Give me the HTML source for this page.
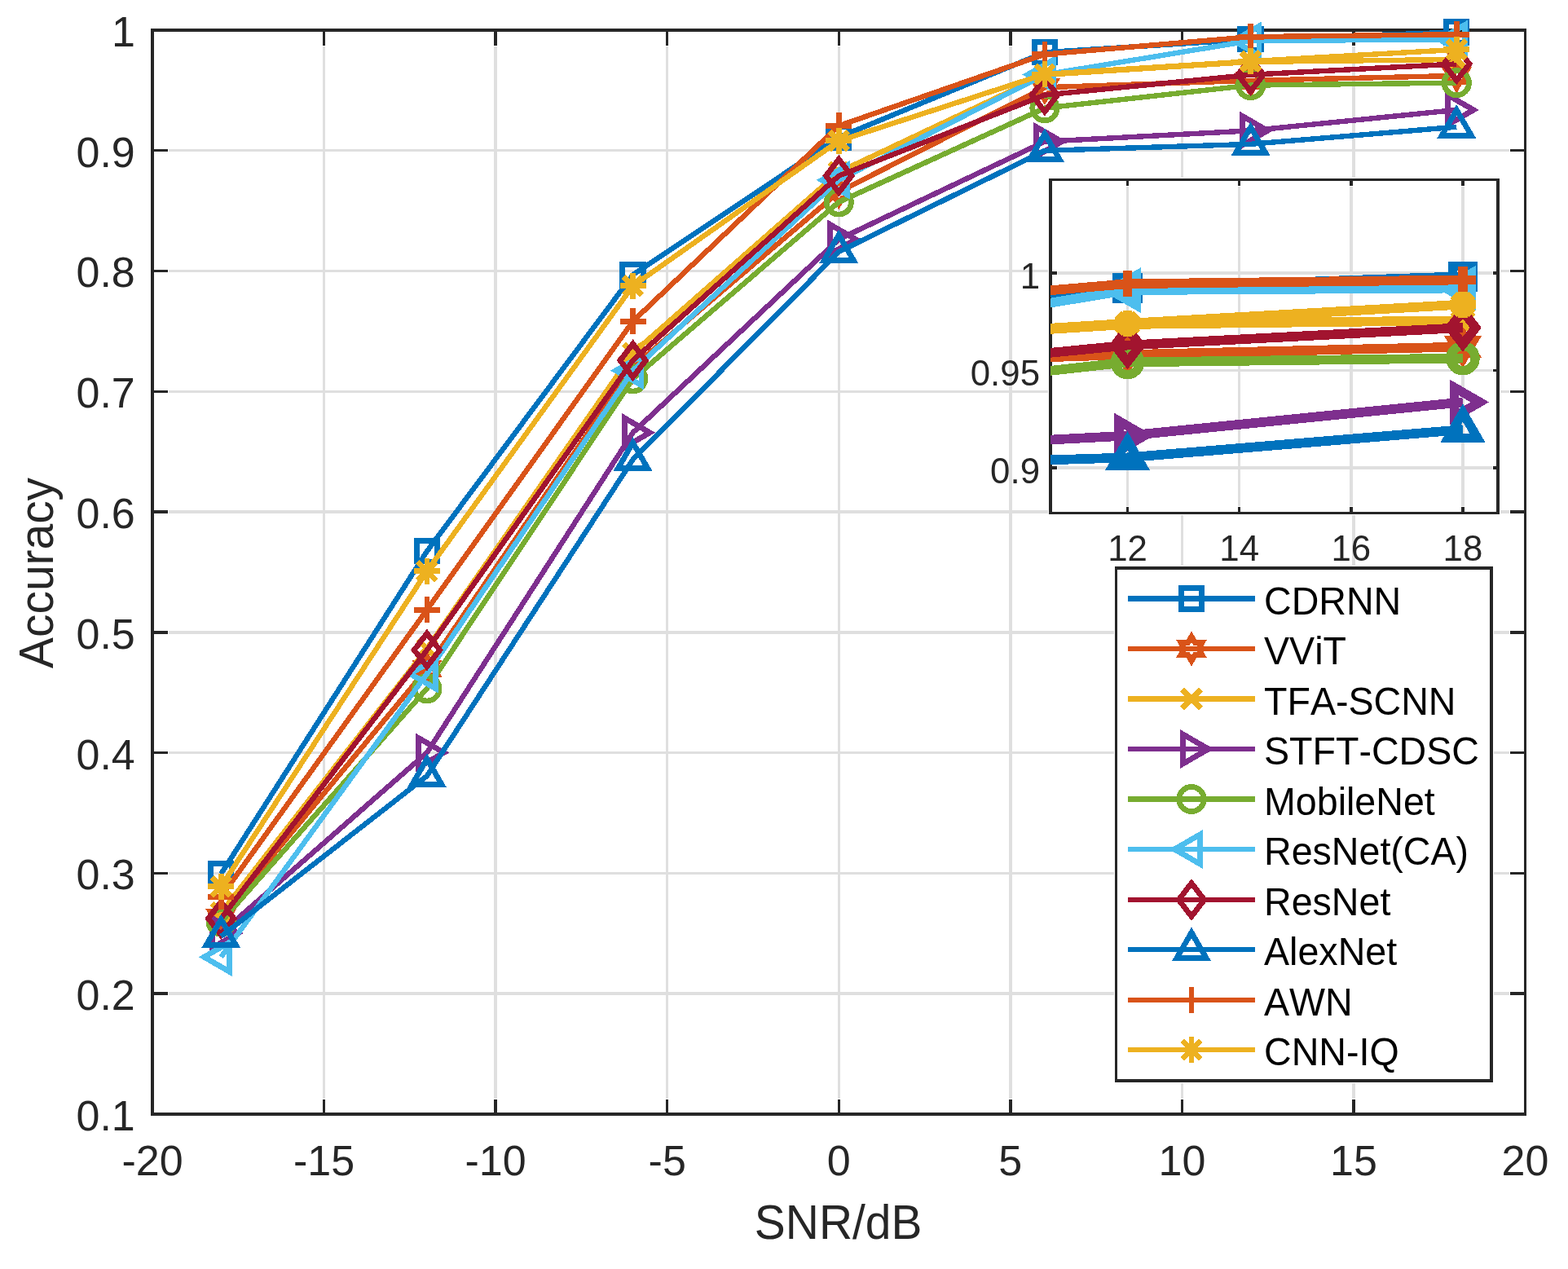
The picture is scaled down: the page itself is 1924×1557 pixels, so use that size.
<!DOCTYPE html>
<html lang="en">
<head>
<meta charset="utf-8">
<title>Accuracy vs SNR</title>
<style>
html,body{margin:0;padding:0;background:#fff;}
body{width:1924px;height:1557px;overflow:hidden;}
svg{display:block;}
text{font-kerning:none;}
</style>
</head>
<body>
<svg width="1924" height="1557" viewBox="0 0 1924 1557" shape-rendering="crispEdges" font-family='"Liberation Sans", sans-serif'>
<rect width="1924" height="1557" fill="#fff"/>
<defs><clipPath id="ci"><rect x="1289" y="220.5" width="549" height="409"/></clipPath></defs>
<path d="M397.56 57V1348M608.12 57V1348M818.69 57V1348M1029.25 57V1348M1239.81 57V1348M1450.38 57V1348M1660.94 57V1348M207 1219.18H1852M207 1071.4H1852M207 923.62H1852M207 775.84H1852M207 628.06H1852M207 480.28H1852M207 332.5H1852M207 184.72H1852" fill="none" stroke="#dfdfdf" stroke-width="3.5"/>
<path d="M397.56 1366.96V1349M397.56 36.94V56M608.12 1366.96V1349M608.12 36.94V56M818.69 1366.96V1349M818.69 36.94V56M1029.25 1366.96V1349M1029.25 36.94V56M1239.81 1366.96V1349M1239.81 36.94V56M1450.38 1366.96V1349M1450.38 36.94V56M1660.94 1366.96V1349M1660.94 36.94V56M187 1219.18H206M1871.5 1219.18H1853M187 1071.4H206M1871.5 1071.4H1853M187 923.62H206M1871.5 923.62H1853M187 775.84H206M1871.5 775.84H1853M187 628.06H206M1871.5 628.06H1853M187 480.28H206M1871.5 480.28H1853M187 332.5H206M1871.5 332.5H1853M187 184.72H206M1871.5 184.72H1853" fill="none" stroke="#262626" stroke-width="3.5"/>
<rect x="187" y="36.94" width="1684.5" height="1330.02" fill="none" stroke="#262626" stroke-width="3.5"/>
<polyline points="271.23,1072.26 523.9,676.35 776.58,337.2 1029.25,168.43 1281.92,64.25 1534.6,48.29 1787.28,39.57" fill="none" stroke="#0072BD" stroke-width="6.4" stroke-linejoin="round"/>
<rect x="258.48" y="1059.51" width="25.5" height="25.5" fill="none" stroke="#0072BD" stroke-width="6.8" stroke-linejoin="miter" stroke-miterlimit="10"/>
<rect x="511.15" y="663.6" width="25.5" height="25.5" fill="none" stroke="#0072BD" stroke-width="6.8" stroke-linejoin="miter" stroke-miterlimit="10"/>
<rect x="763.83" y="324.45" width="25.5" height="25.5" fill="none" stroke="#0072BD" stroke-width="6.8" stroke-linejoin="miter" stroke-miterlimit="10"/>
<rect x="1016.5" y="155.68" width="25.5" height="25.5" fill="none" stroke="#0072BD" stroke-width="6.8" stroke-linejoin="miter" stroke-miterlimit="10"/>
<rect x="1269.17" y="51.5" width="25.5" height="25.5" fill="none" stroke="#0072BD" stroke-width="6.8" stroke-linejoin="miter" stroke-miterlimit="10"/>
<rect x="1521.85" y="35.54" width="25.5" height="25.5" fill="none" stroke="#0072BD" stroke-width="6.8" stroke-linejoin="miter" stroke-miterlimit="10"/>
<rect x="1774.53" y="26.82" width="25.5" height="25.5" fill="none" stroke="#0072BD" stroke-width="6.8" stroke-linejoin="miter" stroke-miterlimit="10"/>
<polyline points="271.23,1126.34 523.9,820.44 776.58,450.25 1029.25,235.53 1281.92,107.25 1534.6,98.83 1787.28,92.92" fill="none" stroke="#D95319" stroke-width="6.4" stroke-linejoin="round"/>
<path d="M271.23 1111.34L275.56 1118.84L284.22 1118.84L279.89 1126.34L284.22 1133.84L275.56 1133.84L271.23 1141.34L266.89 1133.84L258.23 1133.84L262.56 1126.34L258.23 1118.84L266.89 1118.84Z" fill="none" stroke="#D95319" stroke-width="6.8" stroke-linejoin="miter" stroke-miterlimit="10"/>
<path d="M523.9 805.44L528.23 812.94L536.89 812.94L532.56 820.44L536.89 827.94L528.23 827.94L523.9 835.44L519.57 827.94L510.91 827.94L515.24 820.44L510.91 812.94L519.57 812.94Z" fill="none" stroke="#D95319" stroke-width="6.8" stroke-linejoin="miter" stroke-miterlimit="10"/>
<path d="M776.58 435.25L780.91 442.75L789.57 442.75L785.24 450.25L789.57 457.75L780.91 457.75L776.58 465.25L772.24 457.75L763.58 457.75L767.91 450.25L763.58 442.75L772.24 442.75Z" fill="none" stroke="#D95319" stroke-width="6.8" stroke-linejoin="miter" stroke-miterlimit="10"/>
<path d="M1029.25 220.53L1033.58 228.03L1042.24 228.03L1037.91 235.53L1042.24 243.03L1033.58 243.03L1029.25 250.53L1024.92 243.03L1016.26 243.03L1020.59 235.53L1016.26 228.03L1024.92 228.03Z" fill="none" stroke="#D95319" stroke-width="6.8" stroke-linejoin="miter" stroke-miterlimit="10"/>
<path d="M1281.92 92.25L1286.26 99.75L1294.92 99.75L1290.59 107.25L1294.92 114.75L1286.26 114.75L1281.92 122.25L1277.59 114.75L1268.93 114.75L1273.26 107.25L1268.93 99.75L1277.59 99.75Z" fill="none" stroke="#D95319" stroke-width="6.8" stroke-linejoin="miter" stroke-miterlimit="10"/>
<path d="M1534.6 83.83L1538.93 91.33L1547.59 91.33L1543.26 98.83L1547.59 106.33L1538.93 106.33L1534.6 113.83L1530.27 106.33L1521.61 106.33L1525.94 98.83L1521.61 91.33L1530.27 91.33Z" fill="none" stroke="#D95319" stroke-width="6.8" stroke-linejoin="miter" stroke-miterlimit="10"/>
<path d="M1787.28 77.92L1791.61 85.42L1800.27 85.42L1795.94 92.92L1800.27 100.42L1791.61 100.42L1787.28 107.92L1782.94 100.42L1774.28 100.42L1778.61 92.92L1774.28 85.42L1782.94 85.42Z" fill="none" stroke="#D95319" stroke-width="6.8" stroke-linejoin="miter" stroke-miterlimit="10"/>
<polyline points="271.23,1119.99 523.9,795.91 776.58,433.25 1029.25,211.14 1281.92,91.88 1534.6,75.92 1787.28,72.97" fill="none" stroke="#EDB120" stroke-width="6.4" stroke-linejoin="round"/>
<path d="M259.91 1108.67L282.54 1131.3M259.91 1131.3L282.54 1108.67" fill="none" stroke="#EDB120" stroke-width="6.8" stroke-linejoin="miter" stroke-miterlimit="10"/>
<path d="M512.59 784.59L535.21 807.22M512.59 807.22L535.21 784.59" fill="none" stroke="#EDB120" stroke-width="6.8" stroke-linejoin="miter" stroke-miterlimit="10"/>
<path d="M765.26 421.94L787.89 444.57M765.26 444.57L787.89 421.94" fill="none" stroke="#EDB120" stroke-width="6.8" stroke-linejoin="miter" stroke-miterlimit="10"/>
<path d="M1017.94 199.83L1040.56 222.46M1017.94 222.46L1040.56 199.83" fill="none" stroke="#EDB120" stroke-width="6.8" stroke-linejoin="miter" stroke-miterlimit="10"/>
<path d="M1270.61 80.57L1293.24 103.2M1270.61 103.2L1293.24 80.57" fill="none" stroke="#EDB120" stroke-width="6.8" stroke-linejoin="miter" stroke-miterlimit="10"/>
<path d="M1523.29 64.61L1545.91 87.24M1523.29 87.24L1545.91 64.61" fill="none" stroke="#EDB120" stroke-width="6.8" stroke-linejoin="miter" stroke-miterlimit="10"/>
<path d="M1775.96 61.65L1798.59 84.28M1775.96 84.28L1798.59 61.65" fill="none" stroke="#EDB120" stroke-width="6.8" stroke-linejoin="miter" stroke-miterlimit="10"/>
<polyline points="271.23,1144.82 523.9,923.44 776.58,530.79 1029.25,293.6 1281.92,173.75 1534.6,160.31 1787.28,134.89" fill="none" stroke="#7E2F8E" stroke-width="6.4" stroke-linejoin="round"/>
<path d="M292.03 1144.82L260.83 1162.83L260.82 1126.8Z" fill="none" stroke="#7E2F8E" stroke-width="6.8" stroke-linejoin="miter" stroke-miterlimit="10"/>
<path d="M544.7 923.44L513.5 941.45L513.5 905.43Z" fill="none" stroke="#7E2F8E" stroke-width="6.8" stroke-linejoin="miter" stroke-miterlimit="10"/>
<path d="M797.38 530.79L766.18 548.8L766.18 512.78Z" fill="none" stroke="#7E2F8E" stroke-width="6.8" stroke-linejoin="miter" stroke-miterlimit="10"/>
<path d="M1050.05 293.6L1018.85 311.62L1018.85 275.59Z" fill="none" stroke="#7E2F8E" stroke-width="6.8" stroke-linejoin="miter" stroke-miterlimit="10"/>
<path d="M1302.72 173.75L1271.52 191.77L1271.52 155.74Z" fill="none" stroke="#7E2F8E" stroke-width="6.8" stroke-linejoin="miter" stroke-miterlimit="10"/>
<path d="M1555.4 160.31L1524.2 178.32L1524.2 142.29Z" fill="none" stroke="#7E2F8E" stroke-width="6.8" stroke-linejoin="miter" stroke-miterlimit="10"/>
<path d="M1808.08 134.89L1776.88 152.9L1776.88 116.87Z" fill="none" stroke="#7E2F8E" stroke-width="6.8" stroke-linejoin="miter" stroke-miterlimit="10"/>
<polyline points="271.23,1131.07 523.9,844.82 776.58,464.88 1029.25,247.94 1281.92,132.67 1534.6,104.59 1787.28,101.64" fill="none" stroke="#77AC30" stroke-width="6.4" stroke-linejoin="round"/>
<circle cx="271.23" cy="1131.07" r="15.15" fill="none" stroke="#77AC30" stroke-width="6.8" stroke-linejoin="miter" stroke-miterlimit="10"/>
<circle cx="523.9" cy="844.82" r="15.15" fill="none" stroke="#77AC30" stroke-width="6.8" stroke-linejoin="miter" stroke-miterlimit="10"/>
<circle cx="776.58" cy="464.88" r="15.15" fill="none" stroke="#77AC30" stroke-width="6.8" stroke-linejoin="miter" stroke-miterlimit="10"/>
<circle cx="1029.25" cy="247.94" r="15.15" fill="none" stroke="#77AC30" stroke-width="6.8" stroke-linejoin="miter" stroke-miterlimit="10"/>
<circle cx="1281.92" cy="132.67" r="15.15" fill="none" stroke="#77AC30" stroke-width="6.8" stroke-linejoin="miter" stroke-miterlimit="10"/>
<circle cx="1534.6" cy="104.59" r="15.15" fill="none" stroke="#77AC30" stroke-width="6.8" stroke-linejoin="miter" stroke-miterlimit="10"/>
<circle cx="1787.28" cy="101.64" r="15.15" fill="none" stroke="#77AC30" stroke-width="6.8" stroke-linejoin="miter" stroke-miterlimit="10"/>
<polyline points="271.23,1174.22 523.9,826.65 776.58,454.68 1029.25,220.89 1281.92,91.59 1534.6,50.06 1787.28,48.44" fill="none" stroke="#4DBEEE" stroke-width="6.4" stroke-linejoin="round"/>
<path d="M250.43 1174.22L281.62 1156.21L281.62 1192.24Z" fill="none" stroke="#4DBEEE" stroke-width="6.8" stroke-linejoin="miter" stroke-miterlimit="10"/>
<path d="M503.1 826.65L534.3 808.63L534.3 844.66Z" fill="none" stroke="#4DBEEE" stroke-width="6.8" stroke-linejoin="miter" stroke-miterlimit="10"/>
<path d="M755.78 454.68L786.98 436.67L786.98 472.7Z" fill="none" stroke="#4DBEEE" stroke-width="6.8" stroke-linejoin="miter" stroke-miterlimit="10"/>
<path d="M1008.45 220.89L1039.65 202.88L1039.65 238.91Z" fill="none" stroke="#4DBEEE" stroke-width="6.8" stroke-linejoin="miter" stroke-miterlimit="10"/>
<path d="M1261.12 91.59L1292.33 73.57L1292.33 109.6Z" fill="none" stroke="#4DBEEE" stroke-width="6.8" stroke-linejoin="miter" stroke-miterlimit="10"/>
<path d="M1513.8 50.06L1545 32.05L1545 68.07Z" fill="none" stroke="#4DBEEE" stroke-width="6.8" stroke-linejoin="miter" stroke-miterlimit="10"/>
<path d="M1766.48 48.44L1797.68 30.42L1797.68 66.45Z" fill="none" stroke="#4DBEEE" stroke-width="6.8" stroke-linejoin="miter" stroke-miterlimit="10"/>
<polyline points="271.23,1126.93 523.9,797.53 776.58,442.27 1029.25,215.72 1281.92,116.56 1534.6,91.74 1787.28,78.44" fill="none" stroke="#A2142F" stroke-width="6.4" stroke-linejoin="round"/>
<path d="M271.23 1106.53L286.93 1126.93L271.23 1147.33L255.53 1126.93Z" fill="none" stroke="#A2142F" stroke-width="6.8" stroke-linejoin="miter" stroke-miterlimit="10"/>
<path d="M523.9 777.13L539.6 797.53L523.9 817.93L508.2 797.53Z" fill="none" stroke="#A2142F" stroke-width="6.8" stroke-linejoin="miter" stroke-miterlimit="10"/>
<path d="M776.58 421.87L792.28 442.27L776.58 462.67L760.88 442.27Z" fill="none" stroke="#A2142F" stroke-width="6.8" stroke-linejoin="miter" stroke-miterlimit="10"/>
<path d="M1029.25 195.32L1044.95 215.72L1029.25 236.12L1013.55 215.72Z" fill="none" stroke="#A2142F" stroke-width="6.8" stroke-linejoin="miter" stroke-miterlimit="10"/>
<path d="M1281.92 96.16L1297.62 116.56L1281.92 136.96L1266.22 116.56Z" fill="none" stroke="#A2142F" stroke-width="6.8" stroke-linejoin="miter" stroke-miterlimit="10"/>
<path d="M1534.6 71.34L1550.3 91.74L1534.6 112.14L1518.9 91.74Z" fill="none" stroke="#A2142F" stroke-width="6.8" stroke-linejoin="miter" stroke-miterlimit="10"/>
<path d="M1787.28 58.04L1802.98 78.44L1787.28 98.84L1771.58 78.44Z" fill="none" stroke="#A2142F" stroke-width="6.8" stroke-linejoin="miter" stroke-miterlimit="10"/>
<polyline points="271.23,1148.95 523.9,951.96 776.58,563.89 1029.25,308.97 1281.92,184.84 1534.6,176.86 1787.28,155.72" fill="none" stroke="#0072BD" stroke-width="6.4" stroke-linejoin="round"/>
<path d="M271.23 1128.15L289.24 1159.35L253.21 1159.35Z" fill="none" stroke="#0072BD" stroke-width="6.8" stroke-linejoin="miter" stroke-miterlimit="10"/>
<path d="M523.9 931.16L541.91 962.36L505.89 962.36Z" fill="none" stroke="#0072BD" stroke-width="6.8" stroke-linejoin="miter" stroke-miterlimit="10"/>
<path d="M776.58 543.09L794.59 574.29L758.56 574.29Z" fill="none" stroke="#0072BD" stroke-width="6.8" stroke-linejoin="miter" stroke-miterlimit="10"/>
<path d="M1029.25 288.17L1047.26 319.37L1011.24 319.37Z" fill="none" stroke="#0072BD" stroke-width="6.8" stroke-linejoin="miter" stroke-miterlimit="10"/>
<path d="M1281.92 164.04L1299.94 195.24L1263.91 195.24Z" fill="none" stroke="#0072BD" stroke-width="6.8" stroke-linejoin="miter" stroke-miterlimit="10"/>
<path d="M1534.6 156.06L1552.61 187.26L1516.59 187.26Z" fill="none" stroke="#0072BD" stroke-width="6.8" stroke-linejoin="miter" stroke-miterlimit="10"/>
<path d="M1787.28 134.92L1805.29 166.12L1769.26 166.12Z" fill="none" stroke="#0072BD" stroke-width="6.8" stroke-linejoin="miter" stroke-miterlimit="10"/>
<polyline points="271.23,1100.33 523.9,748.17 776.58,394.24 1029.25,154.39 1281.92,66.61 1534.6,45.18 1787.28,42.23" fill="none" stroke="#D95319" stroke-width="6.4" stroke-linejoin="round"/>
<path d="M255.23 1100.33H287.23M271.23 1084.33V1116.33" fill="none" stroke="#D95319" stroke-width="6.8" stroke-linejoin="miter" stroke-miterlimit="10"/>
<path d="M507.9 748.17H539.9M523.9 732.17V764.17" fill="none" stroke="#D95319" stroke-width="6.8" stroke-linejoin="miter" stroke-miterlimit="10"/>
<path d="M760.58 394.24H792.58M776.58 378.24V410.24" fill="none" stroke="#D95319" stroke-width="6.8" stroke-linejoin="miter" stroke-miterlimit="10"/>
<path d="M1013.25 154.39H1045.25M1029.25 138.39V170.39" fill="none" stroke="#D95319" stroke-width="6.8" stroke-linejoin="miter" stroke-miterlimit="10"/>
<path d="M1265.92 66.61H1297.92M1281.92 50.61V82.61" fill="none" stroke="#D95319" stroke-width="6.8" stroke-linejoin="miter" stroke-miterlimit="10"/>
<path d="M1518.6 45.18H1550.6M1534.6 29.18V61.18" fill="none" stroke="#D95319" stroke-width="6.8" stroke-linejoin="miter" stroke-miterlimit="10"/>
<path d="M1771.28 42.23H1803.28M1787.28 26.23V58.23" fill="none" stroke="#D95319" stroke-width="6.8" stroke-linejoin="miter" stroke-miterlimit="10"/>
<polyline points="271.23,1087.77 523.9,700.74 776.58,350.79 1029.25,172.87 1281.92,91 1534.6,75.18 1787.28,60.85" fill="none" stroke="#EDB120" stroke-width="6.4" stroke-linejoin="round"/>
<path d="M255.23 1087.77H287.23M271.23 1071.77V1103.77M259.91 1076.46L282.54 1099.09M259.91 1099.09L282.54 1076.46" fill="none" stroke="#EDB120" stroke-width="6.8" stroke-linejoin="miter" stroke-miterlimit="10"/>
<path d="M507.9 700.74H539.9M523.9 684.74V716.74M512.59 689.42L535.21 712.05M512.59 712.05L535.21 689.42" fill="none" stroke="#EDB120" stroke-width="6.8" stroke-linejoin="miter" stroke-miterlimit="10"/>
<path d="M760.58 350.79H792.58M776.58 334.79V366.79M765.26 339.48L787.89 362.11M765.26 362.11L787.89 339.48" fill="none" stroke="#EDB120" stroke-width="6.8" stroke-linejoin="miter" stroke-miterlimit="10"/>
<path d="M1013.25 172.87H1045.25M1029.25 156.87V188.87M1017.94 161.55L1040.56 184.18M1017.94 184.18L1040.56 161.55" fill="none" stroke="#EDB120" stroke-width="6.8" stroke-linejoin="miter" stroke-miterlimit="10"/>
<path d="M1265.92 91H1297.92M1281.92 75V107M1270.61 79.68L1293.24 102.31M1270.61 102.31L1293.24 79.68" fill="none" stroke="#EDB120" stroke-width="6.8" stroke-linejoin="miter" stroke-miterlimit="10"/>
<path d="M1518.6 75.18H1550.6M1534.6 59.18V91.18M1523.29 63.87L1545.91 86.5M1523.29 86.5L1545.91 63.87" fill="none" stroke="#EDB120" stroke-width="6.8" stroke-linejoin="miter" stroke-miterlimit="10"/>
<path d="M1771.28 60.85H1803.28M1787.28 44.85V76.85M1775.96 49.54L1798.59 72.16M1775.96 72.16L1798.59 49.54" fill="none" stroke="#EDB120" stroke-width="6.8" stroke-linejoin="miter" stroke-miterlimit="10"/>
<g fill="#262626">
<text transform="translate(187 1442)" font-size="52" text-anchor="middle">-20</text>
<text transform="translate(397.56 1442)" font-size="52" text-anchor="middle">-15</text>
<text transform="translate(608.12 1442)" font-size="52" text-anchor="middle">-10</text>
<text transform="translate(818.69 1442)" font-size="52" text-anchor="middle">-5</text>
<text transform="translate(1029.25 1442)" font-size="52" text-anchor="middle">0</text>
<text transform="translate(1239.81 1442)" font-size="52" text-anchor="middle">5</text>
<text transform="translate(1450.38 1442)" font-size="52" text-anchor="middle">10</text>
<text transform="translate(1660.94 1442)" font-size="52" text-anchor="middle">15</text>
<text transform="translate(1871.5 1442)" font-size="52" text-anchor="middle">20</text>
<text transform="translate(165.8 1386.92)" font-size="52" text-anchor="end">0.1</text>
<text transform="translate(165.8 1239.14)" font-size="52" text-anchor="end">0.2</text>
<text transform="translate(165.8 1091.36)" font-size="52" text-anchor="end">0.3</text>
<text transform="translate(165.8 943.58)" font-size="52" text-anchor="end">0.4</text>
<text transform="translate(165.8 795.8)" font-size="52" text-anchor="end">0.5</text>
<text transform="translate(165.8 648.02)" font-size="52" text-anchor="end">0.6</text>
<text transform="translate(165.8 500.24)" font-size="52" text-anchor="end">0.7</text>
<text transform="translate(165.8 352.46)" font-size="52" text-anchor="end">0.8</text>
<text transform="translate(165.8 204.68)" font-size="52" text-anchor="end">0.9</text>
<text transform="translate(165.8 56.9)" font-size="52" text-anchor="end">1</text>
<text transform="translate(1028.6 1519.8) scale(1 1.05)" font-size="56.9" text-anchor="middle">SNR/dB</text>
<text transform="translate(65.2 702.9) rotate(-90) scale(1 1.05)" font-size="56.9" text-anchor="middle">Accuracy</text>
</g>
<rect x="1286" y="218" width="555" height="414" fill="#fff"/>
<path d="M1383.5 229V621M1520.66 229V621M1657.82 229V621M1794.98 229V621M1298 574.2H1831M1298 454.6H1831M1298 335H1831" fill="none" stroke="#dfdfdf" stroke-width="3.5"/>
<path d="M1383.5 629.5V622M1383.5 220.5V228M1520.66 629.5V622M1520.66 220.5V228M1657.82 629.5V622M1657.82 220.5V228M1794.98 629.5V622M1794.98 220.5V228M1289 574.2H1297M1838 574.2H1832M1289 454.6H1297M1838 454.6H1832M1289 335H1297M1838 335H1832" fill="none" stroke="#262626" stroke-width="3.5"/>
<rect x="1289" y="220.5" width="549" height="409" fill="none" stroke="#262626" stroke-width="3.5"/>
<polyline clip-path="url(#ci)" points="972.02,379.1 1383.5,353.26 1794.98,339.15" fill="none" stroke="#0072BD" stroke-width="11.7" stroke-linejoin="round"/>
<rect x="1370.75" y="340.51" width="25.5" height="25.5" fill="none" stroke="#0072BD" stroke-width="11.3" stroke-linejoin="miter" stroke-miterlimit="10"/>
<rect x="1782.23" y="326.4" width="25.5" height="25.5" fill="none" stroke="#0072BD" stroke-width="11.3" stroke-linejoin="miter" stroke-miterlimit="10"/>
<polyline clip-path="url(#ci)" points="972.02,448.7 1383.5,435.07 1794.98,425.5" fill="none" stroke="#D95319" stroke-width="11.7" stroke-linejoin="round"/>
<path d="M1383.5 420.07L1387.83 427.57L1396.49 427.57L1392.16 435.07L1396.49 442.57L1387.83 442.57L1383.5 450.07L1379.17 442.57L1370.51 442.57L1374.84 435.07L1370.51 427.57L1379.17 427.57Z" fill="none" stroke="#D95319" stroke-width="11.3" stroke-linejoin="miter" stroke-miterlimit="10"/>
<path d="M1794.98 410.5L1799.31 418L1807.97 418L1803.64 425.5L1807.97 433L1799.31 433L1794.98 440.5L1790.65 433L1781.99 433L1786.32 425.5L1781.99 418L1790.65 418Z" fill="none" stroke="#D95319" stroke-width="11.3" stroke-linejoin="miter" stroke-miterlimit="10"/>
<polyline clip-path="url(#ci)" points="972.02,423.83 1383.5,397.99 1794.98,393.21" fill="none" stroke="#EDB120" stroke-width="11.7" stroke-linejoin="round"/>
<path d="M1372.19 386.68L1394.81 409.31M1372.19 409.31L1394.81 386.68" fill="none" stroke="#EDB120" stroke-width="11.3" stroke-linejoin="miter" stroke-miterlimit="10"/>
<path d="M1783.67 381.89L1806.29 404.52M1783.67 404.52L1806.29 381.89" fill="none" stroke="#EDB120" stroke-width="11.3" stroke-linejoin="miter" stroke-miterlimit="10"/>
<polyline clip-path="url(#ci)" points="972.02,556.34 1383.5,534.58 1794.98,493.43" fill="none" stroke="#7E2F8E" stroke-width="11.7" stroke-linejoin="round"/>
<path d="M1404.3 534.58L1373.1 552.59L1373.1 516.56Z" fill="none" stroke="#7E2F8E" stroke-width="11.3" stroke-linejoin="miter" stroke-miterlimit="10"/>
<path d="M1815.78 493.43L1784.58 511.45L1784.58 475.42Z" fill="none" stroke="#7E2F8E" stroke-width="11.3" stroke-linejoin="miter" stroke-miterlimit="10"/>
<polyline clip-path="url(#ci)" points="972.02,489.84 1383.5,444.4 1794.98,439.61" fill="none" stroke="#77AC30" stroke-width="11.7" stroke-linejoin="round"/>
<circle cx="1383.5" cy="444.4" r="15.15" fill="none" stroke="#77AC30" stroke-width="11.3" stroke-linejoin="miter" stroke-miterlimit="10"/>
<circle cx="1794.98" cy="439.61" r="15.15" fill="none" stroke="#77AC30" stroke-width="11.3" stroke-linejoin="miter" stroke-miterlimit="10"/>
<polyline clip-path="url(#ci)" points="972.02,423.35 1383.5,356.13 1794.98,353.5" fill="none" stroke="#4DBEEE" stroke-width="11.7" stroke-linejoin="round"/>
<path d="M1362.7 356.13L1393.9 338.12L1393.9 374.15Z" fill="none" stroke="#4DBEEE" stroke-width="11.3" stroke-linejoin="miter" stroke-miterlimit="10"/>
<path d="M1774.18 353.5L1805.38 335.49L1805.38 371.51Z" fill="none" stroke="#4DBEEE" stroke-width="11.3" stroke-linejoin="miter" stroke-miterlimit="10"/>
<polyline clip-path="url(#ci)" points="972.02,463.77 1383.5,423.59 1794.98,402.06" fill="none" stroke="#A2142F" stroke-width="11.7" stroke-linejoin="round"/>
<path d="M1383.5 403.19L1399.2 423.59L1383.5 443.99L1367.8 423.59Z" fill="none" stroke="#A2142F" stroke-width="11.3" stroke-linejoin="miter" stroke-miterlimit="10"/>
<path d="M1794.98 381.66L1810.68 402.06L1794.98 422.46L1779.28 402.06Z" fill="none" stroke="#A2142F" stroke-width="11.3" stroke-linejoin="miter" stroke-miterlimit="10"/>
<polyline clip-path="url(#ci)" points="972.02,574.28 1383.5,561.37 1794.98,527.16" fill="none" stroke="#0072BD" stroke-width="11.7" stroke-linejoin="round"/>
<path d="M1383.5 540.57L1401.51 571.77L1365.49 571.77Z" fill="none" stroke="#0072BD" stroke-width="11.3" stroke-linejoin="miter" stroke-miterlimit="10"/>
<path d="M1794.98 506.36L1812.99 537.56L1776.97 537.56Z" fill="none" stroke="#0072BD" stroke-width="11.3" stroke-linejoin="miter" stroke-miterlimit="10"/>
<polyline clip-path="url(#ci)" points="972.02,382.92 1383.5,348.24 1794.98,343.45" fill="none" stroke="#D95319" stroke-width="11.7" stroke-linejoin="round"/>
<path d="M1367.5 348.24H1399.5M1383.5 332.24V364.24" fill="none" stroke="#D95319" stroke-width="11.3" stroke-linejoin="miter" stroke-miterlimit="10"/>
<path d="M1778.98 343.45H1810.98M1794.98 327.45V359.45" fill="none" stroke="#D95319" stroke-width="11.3" stroke-linejoin="miter" stroke-miterlimit="10"/>
<polyline clip-path="url(#ci)" points="972.02,422.39 1383.5,396.8 1794.98,373.59" fill="none" stroke="#EDB120" stroke-width="11.7" stroke-linejoin="round"/>
<path d="M1367.5 396.8H1399.5M1383.5 380.8V412.8M1372.19 385.48L1394.81 408.11M1372.19 408.11L1394.81 385.48" fill="none" stroke="#EDB120" stroke-width="11.3" stroke-linejoin="miter" stroke-miterlimit="10"/>
<path d="M1778.98 373.59H1810.98M1794.98 357.59V389.59M1783.67 362.28L1806.29 384.91M1783.67 384.91L1806.29 362.28" fill="none" stroke="#EDB120" stroke-width="11.3" stroke-linejoin="miter" stroke-miterlimit="10"/>
<g fill="#262626">
<text transform="translate(1383.5 688)" font-size="43.8" text-anchor="middle">12</text>
<text transform="translate(1520.66 688)" font-size="43.8" text-anchor="middle">14</text>
<text transform="translate(1657.82 688)" font-size="43.8" text-anchor="middle">16</text>
<text transform="translate(1794.98 688)" font-size="43.8" text-anchor="middle">18</text>
<text transform="translate(1276 593)" font-size="43.8" text-anchor="end">0.9</text>
<text transform="translate(1276 473.4)" font-size="43.8" text-anchor="end">0.95</text>
<text transform="translate(1276 353.8)" font-size="43.8" text-anchor="end">1</text>
</g>
<rect x="1367" y="694" width="466" height="635" fill="#fff"/>
<rect x="1369.5" y="697" width="460.5" height="629" fill="#fff" stroke="#262626" stroke-width="3.5"/>
<g fill="#000">
<path d="M1384 734.5H1539.9" stroke="#0072BD" stroke-width="6.4" fill="none"/>
<rect x="1449.25" y="721.75" width="25.5" height="25.5" fill="none" stroke="#0072BD" stroke-width="6.8" stroke-linejoin="miter" stroke-miterlimit="10"/>
<text transform="translate(1551 753.5) scale(1 1.05)" font-size="46.6">CDRNN</text>
<path d="M1384 796H1539.9" stroke="#D95319" stroke-width="6.4" fill="none"/>
<path d="M1462 781L1466.33 788.5L1474.99 788.5L1470.66 796L1474.99 803.5L1466.33 803.5L1462 811L1457.67 803.5L1449.01 803.5L1453.34 796L1449.01 788.5L1457.67 788.5Z" fill="none" stroke="#D95319" stroke-width="6.8" stroke-linejoin="miter" stroke-miterlimit="10"/>
<text transform="translate(1551 815) scale(1 1.05)" font-size="46.6">VViT</text>
<path d="M1384 857.5H1539.9" stroke="#EDB120" stroke-width="6.4" fill="none"/>
<path d="M1450.69 846.19L1473.31 868.81M1450.69 868.81L1473.31 846.19" fill="none" stroke="#EDB120" stroke-width="6.8" stroke-linejoin="miter" stroke-miterlimit="10"/>
<text transform="translate(1551 876.5) scale(1 1.05)" font-size="46.6">TFA-SCNN</text>
<path d="M1384 919H1539.9" stroke="#7E2F8E" stroke-width="6.4" fill="none"/>
<path d="M1482.8 919L1451.6 937.01L1451.6 900.99Z" fill="none" stroke="#7E2F8E" stroke-width="6.8" stroke-linejoin="miter" stroke-miterlimit="10"/>
<text transform="translate(1551 938) scale(1 1.05)" font-size="46.6">STFT-CDSC</text>
<path d="M1384 980.5H1539.9" stroke="#77AC30" stroke-width="6.4" fill="none"/>
<circle cx="1462" cy="980.5" r="15.15" fill="none" stroke="#77AC30" stroke-width="6.8" stroke-linejoin="miter" stroke-miterlimit="10"/>
<text transform="translate(1551 999.5) scale(1 1.05)" font-size="46.6">MobileNet</text>
<path d="M1384 1042H1539.9" stroke="#4DBEEE" stroke-width="6.4" fill="none"/>
<path d="M1441.2 1042L1472.4 1023.99L1472.4 1060.01Z" fill="none" stroke="#4DBEEE" stroke-width="6.8" stroke-linejoin="miter" stroke-miterlimit="10"/>
<text transform="translate(1551 1061) scale(1 1.05)" font-size="46.6">ResNet(CA)</text>
<path d="M1384 1104H1539.9" stroke="#A2142F" stroke-width="6.4" fill="none"/>
<path d="M1462 1083.6L1477.7 1104L1462 1124.4L1446.3 1104Z" fill="none" stroke="#A2142F" stroke-width="6.8" stroke-linejoin="miter" stroke-miterlimit="10"/>
<text transform="translate(1551 1123) scale(1 1.05)" font-size="46.6">ResNet</text>
<path d="M1384 1165H1539.9" stroke="#0072BD" stroke-width="6.4" fill="none"/>
<path d="M1462 1144.2L1480.01 1175.4L1443.99 1175.4Z" fill="none" stroke="#0072BD" stroke-width="6.8" stroke-linejoin="miter" stroke-miterlimit="10"/>
<text transform="translate(1551 1184) scale(1 1.05)" font-size="46.6">AlexNet</text>
<path d="M1384 1227H1539.9" stroke="#D95319" stroke-width="6.4" fill="none"/>
<path d="M1446 1227H1478M1462 1211V1243" fill="none" stroke="#D95319" stroke-width="6.8" stroke-linejoin="miter" stroke-miterlimit="10"/>
<text transform="translate(1551 1246) scale(1 1.05)" font-size="46.6">AWN</text>
<path d="M1384 1288H1539.9" stroke="#EDB120" stroke-width="6.4" fill="none"/>
<path d="M1446 1288H1478M1462 1272V1304M1450.69 1276.69L1473.31 1299.31M1450.69 1299.31L1473.31 1276.69" fill="none" stroke="#EDB120" stroke-width="6.8" stroke-linejoin="miter" stroke-miterlimit="10"/>
<text transform="translate(1551 1307) scale(1 1.05)" font-size="46.6">CNN-IQ</text>
</g>
</svg>
</body>
</html>
